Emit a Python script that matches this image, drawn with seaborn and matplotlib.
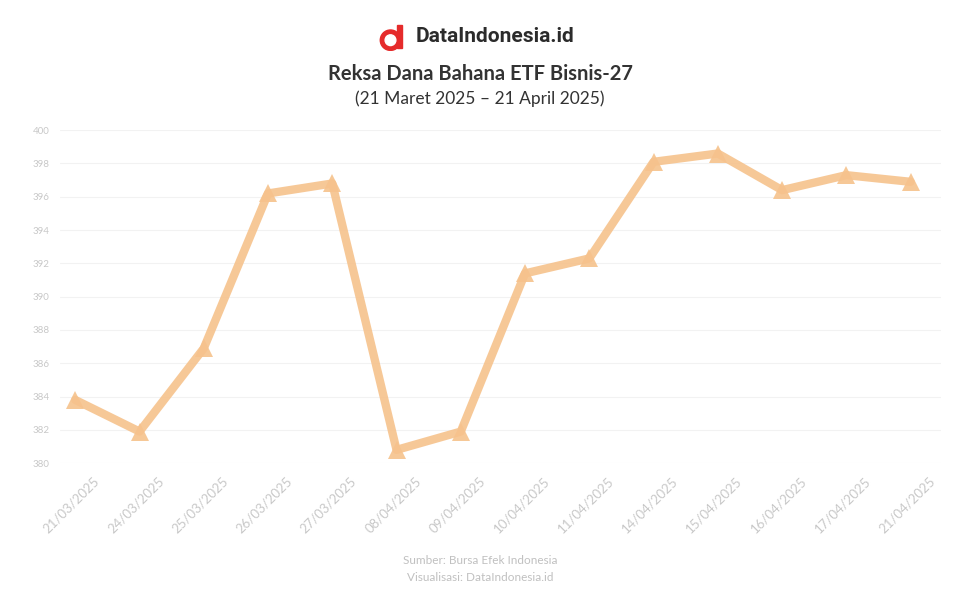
import matplotlib
matplotlib.use("Agg")
import matplotlib.pyplot as plt
import matplotlib.transforms as mtransforms
import seaborn as sns
import pandas as pd
from matplotlib.patches import Circle

# Data
tanggal = ["21/03/2025", "24/03/2025", "25/03/2025", "26/03/2025", "27/03/2025",
           "08/04/2025", "09/04/2025", "10/04/2025", "11/04/2025", "14/04/2025",
           "15/04/2025", "16/04/2025", "17/04/2025", "21/04/2025"]
nab = [383.8, 381.9, 386.9, 396.2, 396.8, 380.8, 381.9, 391.4, 392.3, 398.1,
       398.6, 396.4, 397.3, 396.9]
y_ticks = [380, 382, 384, 386, 388, 390, 392, 394, 396, 398, 400]

df = pd.DataFrame({"tanggal": tanggal, "nab": nab})
df["idx"] = range(len(df))

sns.set_theme(style="white")
plt.rcParams["font.family"] = ["Lato", "DejaVu Sans"]

fig = plt.figure(figsize=(9.6, 6.0), dpi=100)
ax = fig.add_axes([0.063, 0.228, 0.917, 0.555])

sns.lineplot(data=df, x="idx", y="nab", ax=ax, color="#f6c28c",
             linewidth=6, marker="^", markersize=13, markeredgewidth=0, alpha=0.9)

ax.set_xlim(-0.23, 13.47)
ax.set_ylim(380, 400)
ax.set_yticks(y_ticks)
ax.set_yticklabels([str(v) for v in y_ticks], fontsize=7, color="#c8c8c8")
ax.set_xticks(df["idx"])
ax.set_xticklabels(tanggal, rotation=45, ha="right", rotation_mode="anchor",
                   fontsize=9.5, color="#c8c8c8")
ax.tick_params(axis="both", length=0, pad=8)
shift = mtransforms.ScaledTranslation(18 / 100, 0, fig.dpi_scale_trans)
for lbl in ax.get_xticklabels():
    lbl.set_transform(lbl.get_transform() + shift)
ax.grid(axis="y", color="#f2f2f2", linewidth=0.8)
ax.set_xlabel("")
ax.set_ylabel("")
for s in ax.spines.values():
    s.set_visible(False)

# Logo
logo = fig.add_axes([0.395, 0.915, 0.028, 0.045])
logo.set_xlim(0, 1)
logo.set_ylim(0, 1)
logo.set_aspect("equal")
logo.axis("off")
logo.add_patch(Circle((0.42, 0.4), 0.38, color="#e52b2b"))
logo.add_patch(plt.Rectangle((0.68, 0.1), 0.17, 0.85, color="#e52b2b"))
logo.add_patch(Circle((0.42, 0.4), 0.2, color="white"))
fig.text(0.433, 0.939, "DataIndonesia.id", fontsize=15, fontweight="bold",
         color="#2b2b2b", family=["Roboto", "DejaVu Sans"], va="center", ha="left")

fig.text(0.5, 0.877, "Reksa Dana Bahana ETF Bisnis-27", fontsize=14.5, fontweight="bold",
         color="#333333", ha="center", va="center")
fig.text(0.5, 0.835, "(21 Maret 2025 \u2013 21 April 2025)", fontsize=12.5,
         color="#333333", ha="center", va="center")

fig.text(0.5, 0.065, "Sumber: Bursa Efek Indonesia", fontsize=8.5, color="#c0c0c0",
         ha="center", va="center")
fig.text(0.5, 0.037, "Visualisasi: DataIndonesia.id", fontsize=8.5, color="#c0c0c0",
         ha="center", va="center")

fig.savefig("out.png", dpi=100, facecolor="white")
